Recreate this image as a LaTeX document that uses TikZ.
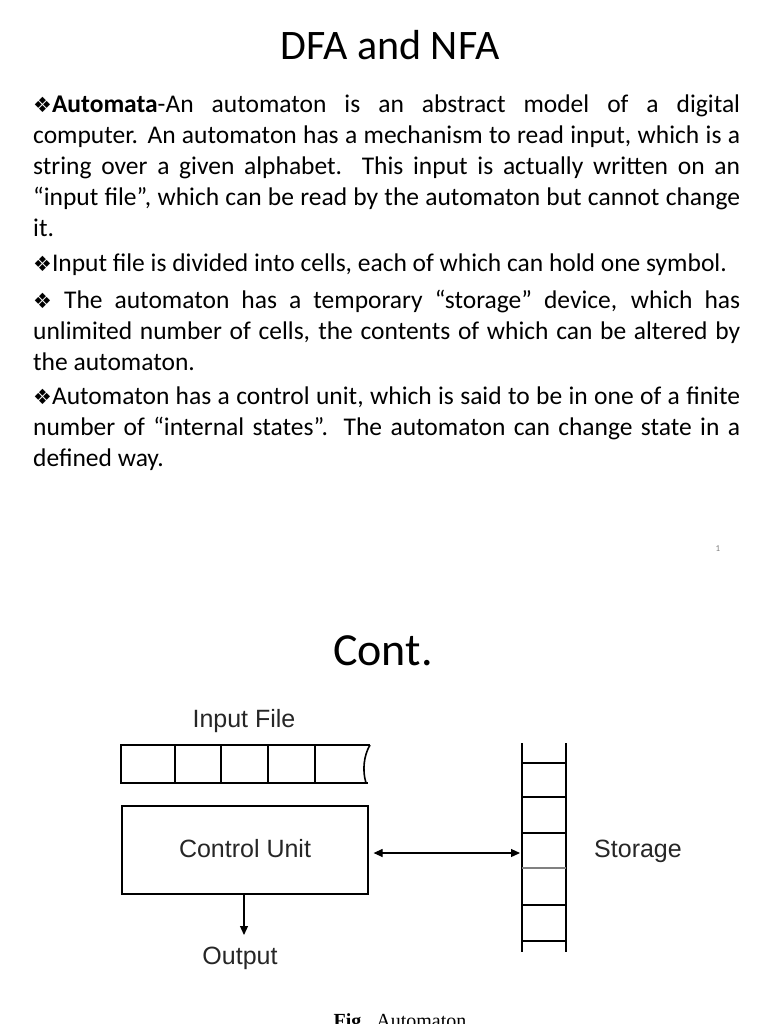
\documentclass[tikz,border=0pt]{standalone}
\usepackage{fontspec}
\setmainfont{Carlito}
\newfontfamily\dejavu{DejaVu Sans}
\newfontfamily\arialf{Liberation Sans}
\newfontfamily\timesf{Liberation Serif}
\usetikzlibrary{arrows.meta}
\hyphenpenalty=10000
\exhyphenpenalty=10000
\begin{document}
\begin{tikzpicture}[x=1pt,y=-1pt,
  para/.style={anchor=north west,text width=707pt,align=justify,inner sep=0pt,font=\fontsize{25.5}{31}\selectfont},
  lbl/.style={font=\arialf\fontsize{25}{28}\selectfont,text=black!85},
  ln/.style={line width=1.6pt},
  arr/.style={line width=1.2pt,-{Triangle[length=9pt,width=8pt]}}]
\useasboundingbox[fill=white] (0,0) rectangle (768,1024);
\newcommand\bul{{\dejavu\fontsize{21}{31}\selectfont ❖}}
\node (title) at (390,45) {\fontsize{42}{46}\selectfont DFA and NFA};
\node[para] (p1) at (33,95) {\hyphenpenalty=10000\relax\bul\textbf{Automata}-An automaton is an abstract model of a digital\linebreak computer. An automaton has a mechanism to read input, which is a\linebreak string over a given alphabet. This input is actually written on an\linebreak “input file”, which can be read by the automaton but cannot change\linebreak it.};
\node[para] (p2) at (33,254) {\bul Input file is divided into cells, each of which can hold one symbol.};
\node[para] (p3) at (33,290) {\hyphenpenalty=10000\relax\bul\ The automaton has a temporary “storage” device, which has unlimited number of cells, the contents of which can be altered by the automaton.};
\node[para] (p4) at (33,387) {\hyphenpenalty=10000\relax\bul Automaton has a control unit, which is said to be in one of a finite number of “internal states”. The automaton can change state in a defined way.};
\node[font=\fontsize{9}{10}\selectfont,text=gray] (pg) at (718,549) {1};
\node (cont) at (383,651) {\fontsize{46}{50}\selectfont Cont.};
% input file
\node[lbl] (inlab) at (244,721) {Input File};
\draw[ln] (370,745) -- (121,745) -- (121,783) -- (368,783);
\foreach \x in {175,221,268,315} \draw[ln] (\x,745) -- (\x,783);
\draw[ln] (370,745) .. controls (364,755) and (362,770) .. (366,783);
% control unit
\node[draw,ln,minimum width=246pt,minimum height=88pt,anchor=north west,inner sep=0pt] (cu) at (121,805) {};
\node[lbl] (cul) at (245,849) {Control Unit};
% storage
\draw[ln] (522,743) -- (522,952);
\draw[ln] (566,743) -- (566,952);
\foreach \y in {763,797,833,905,941} \draw[ln] (522,\y) -- (566,\y);
\draw[line width=1.6pt,gray] (522,868) -- (566,868);
\coordinate (st) at (520,853);
\node[lbl] (stl) at (638,851) {Storage};
\draw[line width=1.2pt,{Triangle[length=9pt,width=8pt]}-{Triangle[length=9pt,width=8pt]}] (cu.east |- st) ++(5,0) -- (st);
% output
\node[lbl] (out) at (240,958) {Output};
\draw[arr] (cu.south -| 244,0) -- (244,935);
\node[font=\timesf\fontsize{20}{22}\selectfont,anchor=north] (fig) at (400,1010) {\textbf{Fig.}\ \ Automaton};
\end{tikzpicture}
\end{document}
